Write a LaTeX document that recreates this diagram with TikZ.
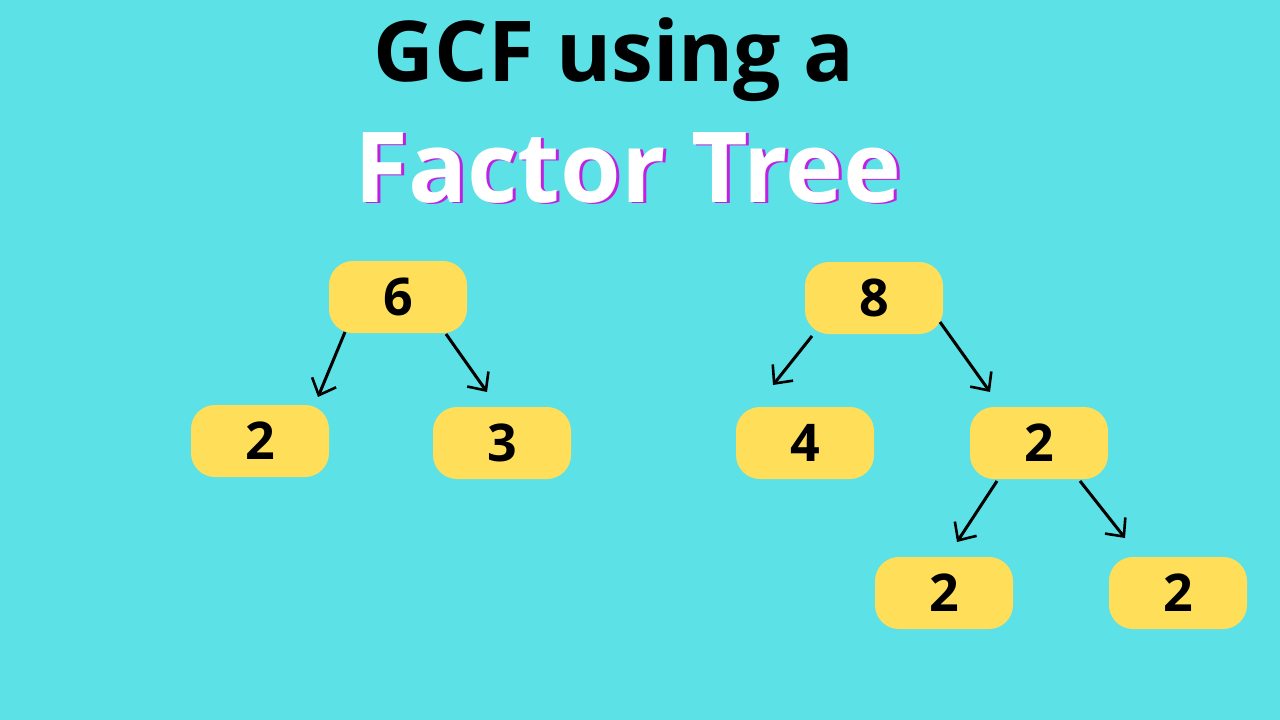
\documentclass[tikz,border=0pt]{standalone}
\usepackage{fontspec}
\setmainfont{Open Sans}
\usetikzlibrary{arrows.meta}
\definecolor{bg}{HTML}{5CE1E6}
\definecolor{yel}{HTML}{FFDE59}
\definecolor{mag}{HTML}{C020E0}
\begin{document}
\begin{tikzpicture}[x=1pt,y=-1pt,
  num/.style={fill=yel,rounded corners=24pt,minimum width=138pt,minimum height=72pt,inner sep=0pt,font=\fontsize{52}{52}\selectfont\bfseries},
  arr/.style={line width=3pt,-{Straight Barb[length=14pt,width=26pt,line width=2.6pt]}}]
\fill[bg] (0,0) rectangle (1280,720);
\useasboundingbox (0,0) rectangle (1280,720);
\node (t1) at (614,60) {\fontsize{84}{84}\selectfont\bfseries GCF using a};
\node[text=mag] (t2s) at (631,169) {\fontsize{98}{98}\selectfont\bfseries Factor Tree};
\node[text=white] (t2) at (628,168) {\fontsize{98}{98}\selectfont\bfseries Factor Tree};
\node[num] (a) at (398,297) {6};
\node[num] (b) at (260,441) {2};
\node[num] (c) at (502,443) {3};
\node[num] (d) at (874,298) {8};
\node[num] (e) at (805,443) {4};
\node[num] (f) at (1039,443) {2};
\node[num] (g) at (944,593) {2};
\node[num] (h) at (1178,593) {2};
\coordinate (a1) at (318,397); \coordinate (a2) at (487,392);
\coordinate (d1) at (773,385); \coordinate (d2) at (990,392);
\coordinate (f1) at (957,542); \coordinate (f2) at (1125,538);
\draw[arr] ([shift={(-53,35)}]a.center) -- (a1);
\draw[arr] ([shift={(48,37)}]a.center) -- (a2);
\draw[arr] ([shift={(-62,38)}]d.center) -- (d1);
\draw[arr] ([shift={(66,24)}]d.center) -- (d2);
\draw[arr] ([shift={(-42,38)}]f.center) -- (f1);
\draw[arr] ([shift={(41,38)}]f.center) -- (f2);
\end{tikzpicture}
\end{document}
